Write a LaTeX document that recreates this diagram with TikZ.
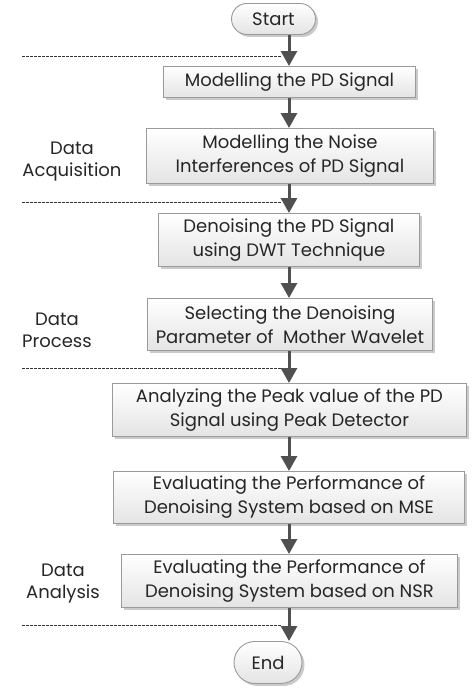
\documentclass[tikz,border=0pt]{standalone}
\usepackage{fontspec}
\setmainfont{Poppins}
\usetikzlibrary{arrows.meta,shadows,shapes.misc}
\definecolor{arr}{HTML}{505050}
\definecolor{bord}{HTML}{9A9A9A}
\definecolor{fillbot}{HTML}{E4E4E4}
\definecolor{txt}{HTML}{262626}
\tikzset{
  stepbox/.style={draw=bord, line width=0.9pt, top color=white, bottom color=fillbot,
    drop shadow={shadow xshift=2.5pt, shadow yshift=-2.5pt, fill=black!35, opacity=0.6},
    align=center, text=txt, font=\fontsize{18}{24}\selectfont, inner sep=0pt, anchor=north west},
  term/.style={draw=bord, line width=0.9pt, rounded rectangle, top color=white, bottom color=fillbot,
    drop shadow={shadow xshift=2.5pt, shadow yshift=-2.5pt, fill=black!35, opacity=0.6},
    text=txt, font=\fontsize{18}{24}\selectfont, inner sep=0pt, anchor=north west},
  flow/.style={draw=arr, line width=3pt, -{Triangle[length=15pt,width=16pt]}},
  sep/.style={draw=black!80, line width=1pt, dash pattern=on 2.5pt off 1.5pt},
  lab/.style={align=center, text=txt, font=\fontsize{18}{22}\selectfont}
}
\begin{document}
\begin{tikzpicture}[x=1pt,y=-1pt]
\useasboundingbox (0,0) rectangle (474,691);
\node[term, minimum width=84pt, minimum height=31pt] (start) at (247,3) {Start};
\node[stepbox, minimum width=252pt, minimum height=31pt] (b1) at (163,66) {Modelling the PD Signal};
\node[stepbox, minimum width=287pt, minimum height=55pt] (b2) at (146,128) {Modelling the Noise\\Interferences of PD Signal};
\node[stepbox, minimum width=261pt, minimum height=53pt] (b3) at (158,213) {Denoising the PD Signal\\using DWT Technique};
\node[stepbox, minimum width=285pt, minimum height=52pt] (b4) at (147,298) {Selecting the Denoising\\Parameter of ~Mother Wavelet};
\node[stepbox, minimum width=354pt, minimum height=53pt] (b5) at (112,383) {Analyzing the Peak value of the PD\\Signal using Peak Detector};
\node[stepbox, minimum width=351pt, minimum height=52pt] (b6) at (113,471) {Evaluating the Performance of\\Denoising System based on MSE};
\node[stepbox, minimum width=336pt, minimum height=53pt] (b7) at (121,554) {Evaluating the Performance of\\Denoising System based on NSR};
\node[term, minimum width=68pt, minimum height=42pt] (end) at (255,641) {End};

\coordinate (d1a) at (22,56); \coordinate (d1b) at (282,56);
\coordinate (d2a) at (22,202); \coordinate (d2b) at (282,202);
\coordinate (d3a) at (22,368); \coordinate (d3b) at (282,368);
\coordinate (d4a) at (22,625); \coordinate (d4b) at (282,625);
\draw[sep] (d1a) -- (d1b);
\draw[sep] (d2a) -- (d2b);
\draw[sep] (d3a) -- (d3b);
\draw[sep] (d4a) -- (d4b);

\draw[flow] (start.south -| 289,0) -- (b1.north -| 289,0);
\draw[flow] (b1.south -| 289,0) -- (b2.north -| 289,0);
\draw[flow] (b2.south -| 289,0) -- (b3.north -| 289,0);
\draw[flow] (b3.south -| 289,0) -- (b4.north -| 289,0);
\draw[flow] (b4.south -| 289,0) -- (b5.north -| 289,0);
\draw[flow] (b5.south -| 289,0) -- (b6.north -| 289,0);
\draw[flow] (b6.south -| 289,0) -- (b7.north -| 289,0);
\draw[flow] (b7.south -| 289,0) -- (end.north -| 289,0);

\node[lab] (l1) at (72,162) {Data\\Acquisition};
\node[lab] (l2) at (57,330) {Data\\Process};
\node[lab] (l3) at (63,584) {Data\\Analysis};
\end{tikzpicture}
\end{document}
